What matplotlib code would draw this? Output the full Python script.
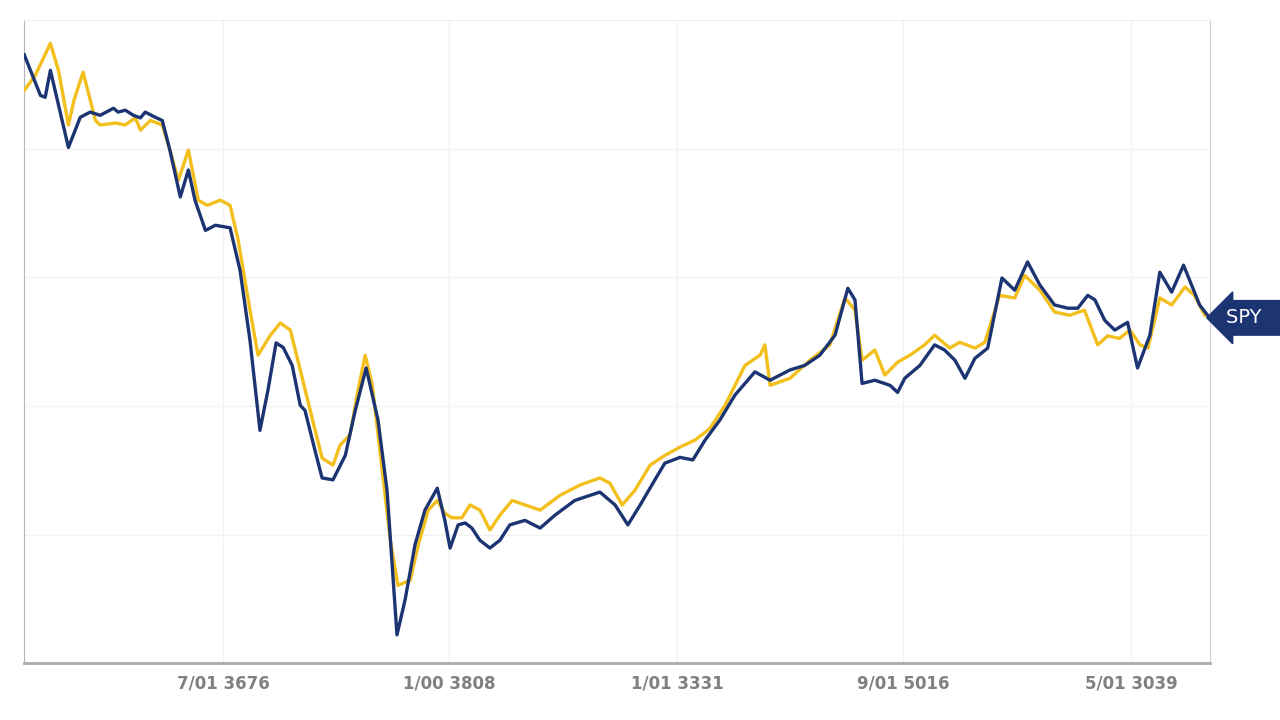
import matplotlib.pyplot as plt

# SPY (navy): trading day index, price
spy_days = [0, 3.4, 4.4, 5.5, 9.3, 11.8, 13.9, 16.0, 18.8, 19.8, 21.3, 23.0, 24.5, 25.5, 27.6, 29.1,
            30.7, 32.9, 34.6, 36.0, 38.2, 40.3, 43.4, 45.5, 47.6, 49.7, 51.4, 53.1, 54.6, 56.5, 58.2,
            59.2, 61.3, 62.8, 65.1, 67.7, 69.8, 72.1, 74.6, 76.5, 78.6, 80.3, 82.4, 84.5, 87.1, 88.7,
            89.8, 91.5, 93.0, 94.4, 96.1, 98.2, 100.3, 102.4, 105.6, 108.8, 111.9, 116.1, 121.4, 124.6,
            127.3, 129.9, 133.0, 135.1, 138.3, 141.0, 143.6, 146.7, 149.9, 154.1, 157.3, 161.5, 164.6,
            167.8, 171.0, 173.7, 175.2, 176.7, 179.4, 182.6, 184.2, 185.7, 188.9, 192.0, 194.1, 196.3,
            198.4, 200.5, 203.2, 206.2, 208.9, 211.6, 214.2, 217.3, 220.1, 222.2, 224.3, 225.8, 227.9,
            230.0, 232.7, 234.8, 237.4, 239.5, 242.0, 244.5, 247.9, 250]
spy_price = [394.6, 388.3, 388.0, 392.2, 380.2, 384.9, 385.7, 385.2, 386.3, 385.7, 386.0, 385.2, 384.8,
             385.7, 384.9, 384.4, 379.8, 372.5, 376.7, 372.0, 367.3, 368.1, 367.7, 361.1, 350.2, 336.2,
             342.5, 349.8, 349.1, 346.3, 340.1, 339.3, 333.1, 328.8, 328.5, 332.3, 339.3, 345.9, 337.8,
             326.9, 304.4, 309.8, 318.4, 323.8, 327.2, 322.2, 317.9, 321.5, 321.8, 321.0, 319.1, 317.9,
             319.1, 321.5, 322.2, 321.0, 323.0, 325.3, 326.6, 324.6, 321.5, 324.6, 328.5, 331.1, 332.0,
             331.6, 334.7, 337.8, 341.7, 345.3, 344.0, 345.6, 346.3, 347.9, 351.0, 358.3, 356.5, 343.5,
             344.0, 343.2, 342.1, 344.3, 346.3, 349.5, 348.7, 347.1, 344.3, 347.4, 349.0, 359.9, 358.0,
             362.4, 358.8, 355.7, 355.2, 355.2, 357.2, 356.5, 353.3, 351.8, 353.0, 345.9, 351.0, 360.8,
             357.7, 361.9, 355.7, 353.7]

# Fund (gold)
fund_days = [0, 2.3, 5.5, 7.2, 9.3, 10.5, 12.4, 15.0, 16.0, 19.2, 21.3, 23.4, 24.5, 26.6, 29.1, 30.7,
             32.5, 34.6, 36.7, 38.6, 41.3, 43.4, 45.1, 47.6, 49.3, 51.9, 54.0, 56.1, 58.2, 60.3, 62.8,
             65.1, 66.6, 68.7, 70.4, 71.9, 73.4, 75.0, 77.2, 78.8, 81.4, 83.1, 85.2, 87.1, 88.7, 90.2,
             92.3, 94.0, 96.1, 98.2, 100.3, 102.9, 105.6, 108.8, 113.0, 117.2, 121.4, 123.5, 126.1,
             128.8, 132.0, 135.1, 138.3, 141.5, 144.6, 147.8, 152.0, 155.2, 156.2, 157.3, 161.5, 165.7,
             169.9, 173.1, 175.2, 176.7, 179.4, 181.5, 184.2, 186.8, 189.9, 192.0, 195.2, 197.3, 200.5,
             202.6, 205.7, 208.9, 211.0, 214.2, 217.3, 220.5, 223.6, 226.4, 228.5, 231.0, 233.2, 235.3,
             237.0, 239.5, 242.0, 244.8, 246.8, 249.0]
fund_price = [389.1, 391.4, 396.4, 392.2, 383.7, 387.6, 391.9, 384.4, 383.7, 384.0, 383.7, 384.8, 382.9,
              384.4, 383.7, 379.8, 375.1, 379.8, 372.0, 371.2, 372.0, 371.2, 365.8, 354.9, 347.9, 351.0,
              352.9, 351.8, 345.6, 339.3, 331.9, 330.8, 333.9, 335.5, 342.5, 347.9, 343.2, 333.1, 319.1,
              312.1, 312.9, 318.4, 323.8, 325.3, 323.3, 322.6, 322.6, 324.6, 323.8, 320.7, 323.0, 325.3,
              324.6, 323.8, 326.1, 327.7, 328.8, 328.0, 324.6, 326.9, 330.8, 332.3, 333.6, 334.7, 336.5,
              340.1, 346.3, 347.9, 349.5, 343.2, 344.3, 347.1, 349.5, 356.8, 354.9, 347.1, 348.7, 344.8,
              346.8, 347.9, 349.5, 351.0, 349.0, 349.9, 349.0, 349.9, 357.2, 356.8, 360.3, 358.0, 354.6,
              354.1, 354.9, 349.5, 350.9, 350.5, 351.8, 349.5, 349.0, 356.8, 355.7, 358.5, 357.2, 354.1]

tick_days = [42.0, 89.6, 137.7, 185.3, 233.4]
tick_labels = ["7/01 3676", "1/00 3808", "1/01 3331", "9/01 5016", "5/01 3039"]

navy = "#1c3472"
gold = "#f3bf1c"

fig = plt.figure(figsize=(12.8, 7.2), dpi=100)
ax = fig.add_axes([0.019, 0.079, 0.926, 0.893])

ax.plot(fund_days, fund_price, color=gold, lw=2.4, solid_joinstyle="round", zorder=3)
ax.plot(spy_days, spy_price, color=navy, lw=2.4, solid_joinstyle="round", zorder=4)

ax.set_xlim(0, 250)
ax.set_ylim(300, 400)
ax.set_xticks(tick_days)
ax.set_xticklabels(tick_labels, color="#808080", fontsize=12, fontweight="bold")
ax.set_yticks([320, 340, 360, 380])
ax.tick_params(axis="y", left=False, labelleft=False)
ax.tick_params(axis="x", length=0, pad=8)
ax.grid(True, color="#f2f2f2", lw=1)
ax.set_axisbelow(True)

ax.spines["left"].set_color("#b5b5b5")
ax.spines["bottom"].set_color("#aaaaaa")
ax.spines["bottom"].set_linewidth(2)
ax.spines["right"].set_color("#cfcfcf")
ax.spines["top"].set_color("#f0f0f0")

# last-value tag, running off the right edge like the original
ax.annotate("SPY  ", xy=(250, spy_price[-1]), xytext=(12, 0), textcoords="offset points",
            ha="left", va="center", color="white", fontsize=14, annotation_clip=False,
            bbox=dict(boxstyle="larrow,pad=0.4", fc=navy, ec=navy))

fig.savefig("out.png", dpi=100, facecolor="white")
